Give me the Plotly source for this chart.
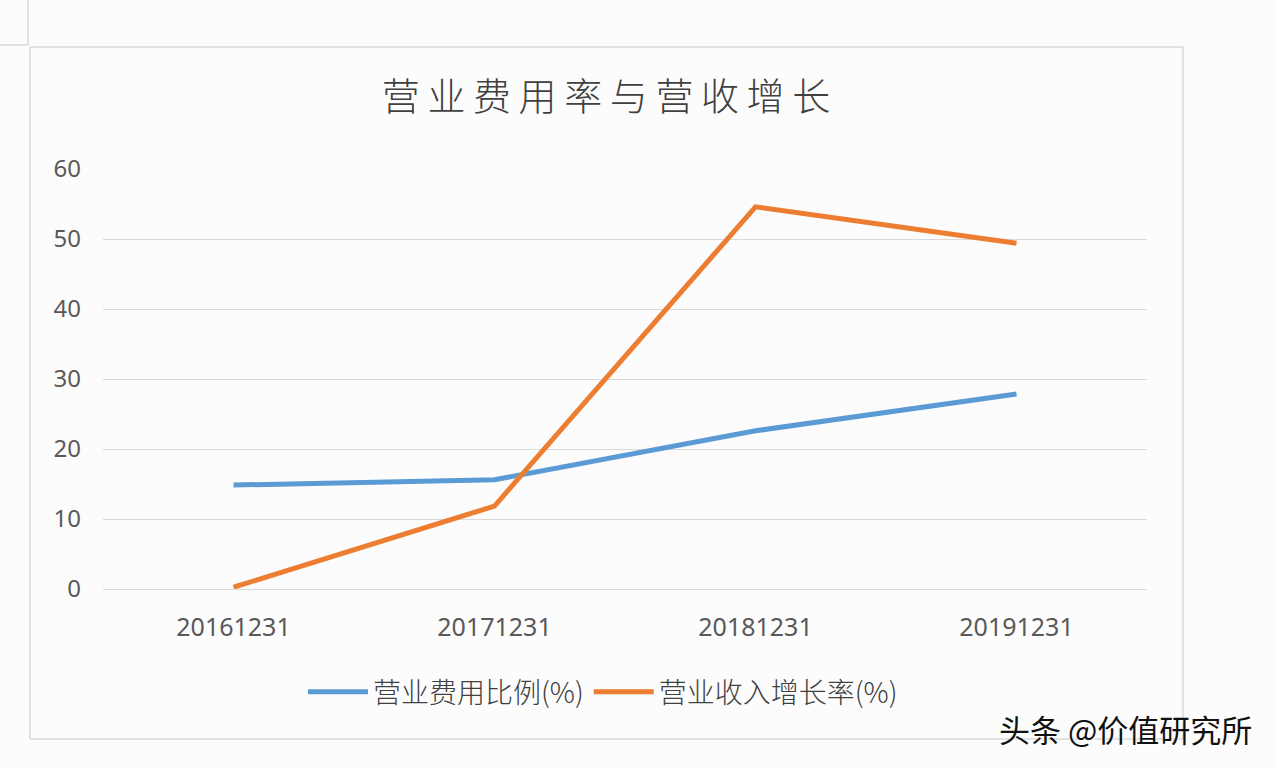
import plotly.graph_objects as go

categories = ["20161231", "20171231", "20181231", "20191231"]
expense_ratio = [14.85, 15.6, 22.6, 27.85]
revenue_growth = [0.25, 11.85, 54.6, 49.4]
series_names = ["营业费用比例(%)", "营业收入增长率(%)"]
y_ticks = [0, 10, 20, 30, 40, 50, 60]
title_text = "营业费用率与营收增长"
watermark = "头条 @价值研究所"

W, H = 1276, 768
L, R, T, B = 103, 1147, 169, 589

def px(x):
    return (x - L) / (R - L)

def py(y):
    return (B - y) / (B - T)

font_family = "Noto Sans CJK SC, Noto Sans, sans-serif"

fig = go.Figure()
fig.add_trace(go.Scatter(x=categories, y=expense_ratio, mode="lines", name=series_names[0],
                         line=dict(color="#5B9BD5", width=5)))
fig.add_trace(go.Scatter(x=categories, y=revenue_growth, mode="lines", name=series_names[1],
                         line=dict(color="#ED7D31", width=5)))

spaced_title = "\u2009".join(title_text)

fig.update_layout(
    width=W, height=H,
    margin=dict(l=L, r=W - R, t=T, b=H - B),
    paper_bgcolor="#FDFCFD", plot_bgcolor="#FDFCFD",
    font=dict(family=font_family, color="#595959"),
    title=dict(text=spaced_title, xref="container", yref="container",
               x=606 / W, y=1 - 97 / H, xanchor="center", yanchor="middle",
               font=dict(size=38, color="#404040", family=font_family, weight=300)),
    showlegend=True,
    legend=dict(orientation="h", x=px(603), y=py(692), xanchor="center", yanchor="middle",
                font=dict(size=28, color="#404040", weight=300), bgcolor="rgba(0,0,0,0)",
                itemwidth=60),
    xaxis=dict(type="category", range=[-0.5, 3.5], showgrid=False, showline=False,
               zeroline=False, ticks="", tickfont=dict(size=25, color="#595959",
               family="Noto Sans, sans-serif"), ticklabelstandoff=21),
    yaxis=dict(range=[0, 60], tickvals=y_ticks, showgrid=True, gridcolor="#D9D9D9",
               gridwidth=1, zeroline=True, zerolinecolor="#D9D9D9", zerolinewidth=1,
               showline=False, ticks="", tickfont=dict(size=24, color="#595959",
               family="Noto Sans, sans-serif"), ticklabelstandoff=21),
)

# chart border and page fragment lines
fig.add_shape(type="rect", xref="paper", yref="paper",
              x0=px(30), x1=px(1183), y0=py(739), y1=py(47),
              line=dict(color="#C8C8C8", width=1), layer="below")
fig.add_shape(type="line", xref="paper", yref="paper",
              x0=px(28), x1=px(28), y0=py(0), y1=py(45),
              line=dict(color="#C8C8C8", width=1))
fig.add_shape(type="line", xref="paper", yref="paper",
              x0=px(0), x1=px(28), y0=py(45), y1=py(45),
              line=dict(color="#C8C8C8", width=1))

fig.add_annotation(text=watermark, xref="paper", yref="paper", x=px(1254), y=py(728),
                   xanchor="right", yanchor="middle", showarrow=False,
                   font=dict(size=31, color="#111111", family=font_family,
                             shadow="1px 1px 1px white"))

fig.write_html("out.html")
